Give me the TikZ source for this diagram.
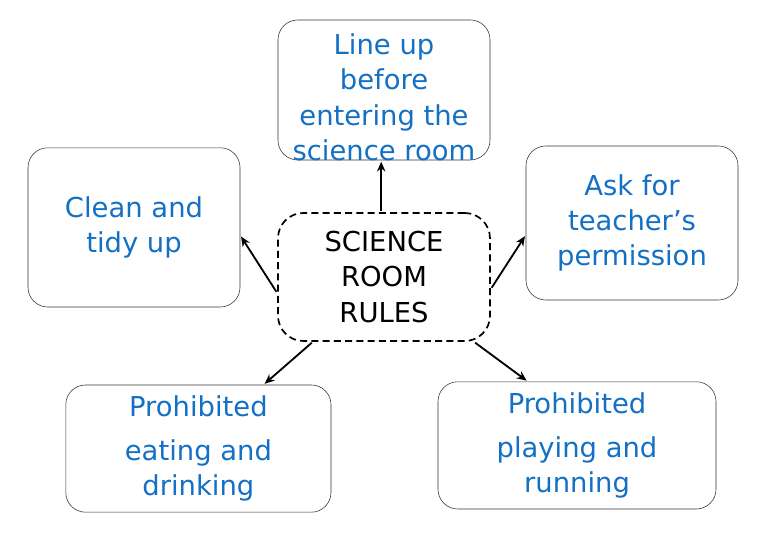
\documentclass[tikz,border=0pt]{standalone}
\usepackage{fontspec}
\setmainfont{DejaVu Sans}
\usetikzlibrary{arrows.meta}
\definecolor{ruleblue}{RGB}{20,112,196}
\tikzset{
  rulebox/.style={draw=black!80, rounded corners=14pt, minimum width=5.3cm, minimum height=3.6cm,
    text=ruleblue, align=center, font=\fontsize{19.5}{25}\selectfont},
  link/.style={-{Stealth[length=7pt,width=6pt]}, line width=1.3pt, shorten <=1pt, shorten >=1pt}
}
\begin{document}
\begin{tikzpicture}
  \useasboundingbox (0,0) rectangle (19.2,13.575);
  \node[rulebox, minimum height=3.5cm] (top) at (9.6,11.325) {};
  \begin{scope}
    \clip[rounded corners=14pt] (top.south west) rectangle (top.north east);
    \node[text=ruleblue, align=center, font=\fontsize{19.5}{25}\selectfont, anchor=north] (toptext) at (9.6,12.85) {Line up\\before\\entering the\\science room};
  \end{scope}
  \node[rulebox, minimum height=3.98cm] (left) at (3.35,7.89) {Clean and\\tidy up};
  \node[rulebox, minimum height=3.85cm] (right) at (15.8,8.0) {Ask for\\teacher’s\\permission};
  \node[rulebox, dash pattern=on 5pt off 3pt, line width=1.2pt, draw=black, text=black, minimum height=3.2cm, rounded corners=18pt] (rules) at (9.6,6.65) {SCIENCE\\ROOM\\RULES};
  \node[rulebox, minimum width=6.63cm, minimum height=3.18cm] (noeat) at (4.96,2.36) {Prohibited\\[6pt]eating and\\drinking};
  \node[rulebox, minimum width=6.95cm, minimum height=3.18cm] (noplay) at (14.425,2.44) {Prohibited\\[6pt]playing and\\running};

  \draw[link] ([xshift=-0.07cm]rules.north) -- ([xshift=-0.07cm]top.south);
  \draw[link] ([yshift=-0.4cm]rules.west) -- ([yshift=-0.2cm]left.east);
  \draw[link] ([yshift=-0.3cm]rules.east) -- ([yshift=-0.3cm]right.west);
  \draw[link] ([xshift=-1.78cm]rules.south) -- ([xshift=1.63cm]noeat.north);
  \draw[link] ([xshift=2.25cm]rules.south) -- ([xshift=-1.23cm]noplay.north);
\end{tikzpicture}
\end{document}
